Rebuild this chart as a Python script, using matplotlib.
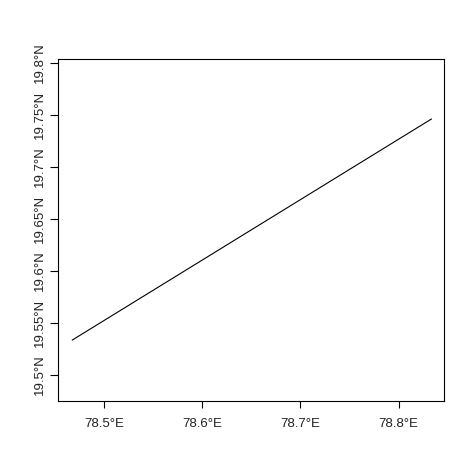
import matplotlib
matplotlib.use("Agg")
import matplotlib.pyplot as plt

# track end points (lon, lat)
lon = [78.4677, 78.8333]
lat = [19.5336, 19.7459]

x_ticks = [78.5, 78.6, 78.7, 78.8]
x_labels = ["78.5°E", "78.6°E", "78.7°E", "78.8°E"]
y_ticks = [19.5, 19.55, 19.6, 19.65, 19.7, 19.75, 19.8]
y_labels = ["19.5°N", "19.55°N", "19.6°N", "19.65°N", "19.7°N", "19.75°N", "19.8°N"]

plt.rcParams["font.family"] = ["Liberation Sans", "DejaVu Sans"]

fig = plt.figure(figsize=(4.74, 4.74), dpi=100)
ax = fig.add_axes([0.123, 0.154, 0.8137, 0.7215])

ax.plot(lon, lat, color="black", linewidth=0.8)

ax.set_xlim(78.4534, 78.8462)
ax.set_ylim(19.475, 19.8036)

ax.set_xticks(x_ticks)
ax.set_xticklabels(x_labels, fontsize=9.5, color="#222222")
ax.set_yticks(y_ticks)
ax.set_yticklabels(y_labels, fontsize=9.5, color="#222222", rotation=90, va="center")

ax.tick_params(axis="x", length=5, width=0.8, pad=7)
ax.tick_params(axis="y", length=5.5, width=0.8, pad=3.5)
for s in ax.spines.values():
    s.set_linewidth(0.8)

fig.savefig("out.png", dpi=100)
